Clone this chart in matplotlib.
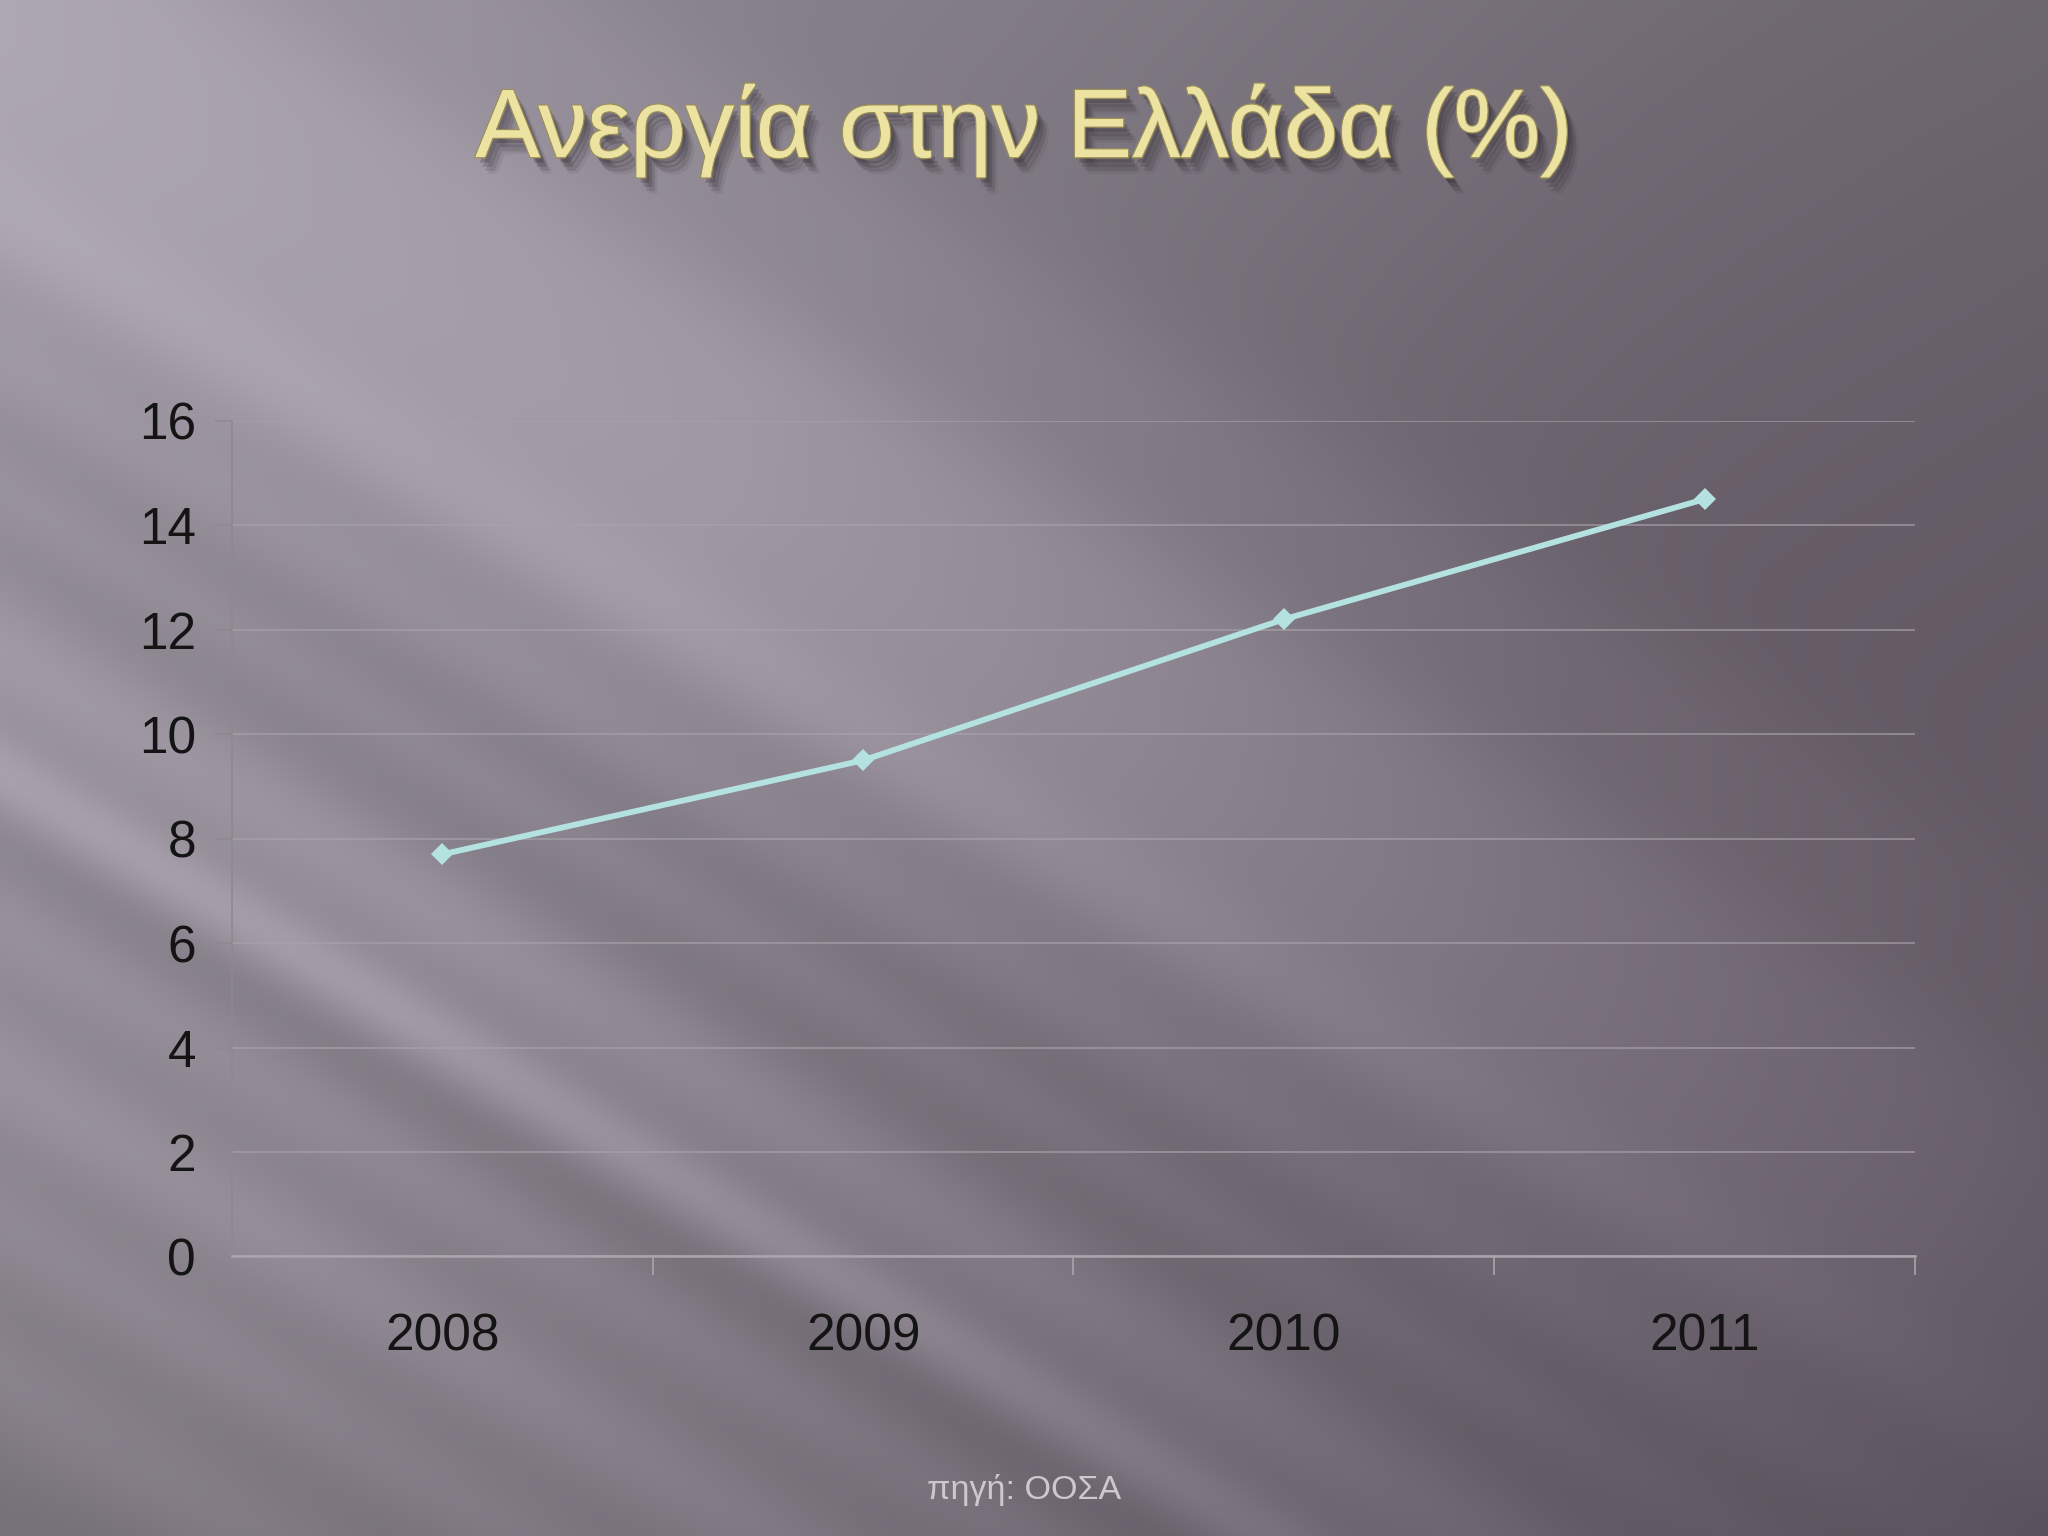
import numpy as np
import matplotlib
matplotlib.use("Agg")
import matplotlib.pyplot as plt
import matplotlib.patheffects as pe

# ---- data ----
years = ["2008", "2009", "2010", "2011"]
unemployment = [7.7, 9.5, 12.2, 14.5]
yticks = [0, 2, 4, 6, 8, 10, 12, 14, 16]
title = "Ανεργία στην Ελλάδα (%)"
source = "πηγή: ΟΟΣΑ"

W, H = 2048, 1536
fig = plt.figure(figsize=(W / 100, H / 100), dpi=100)

# ---- background (decorative gradient with diagonal light streaks) ----
bw, bh = 1024, 768
X, Y = np.meshgrid(np.linspace(0, W, bw), np.linspace(0, H, bh))
xx, yy = X / W, Y / H
tl = np.array([150, 144, 156]) / 255
tr = np.array([110, 104, 112]) / 255
bl = np.array([118, 112, 120]) / 255
br = np.array([86, 78, 88]) / 255
img = (tl * ((1 - xx) * (1 - yy))[..., None] + tr * (xx * (1 - yy))[..., None]
       + bl * ((1 - xx) * yy)[..., None] + br * (xx * yy)[..., None])
mid = np.array([96, 84, 96]) / 255
pt = np.exp(-((xx - 0.85) ** 2 / 0.06 + (yy - 0.5) ** 2 / 0.2))
img = img * (1 - 0.4 * pt[..., None]) + mid * 0.4 * pt[..., None]
ang = np.deg2rad(31)
u = X * np.sin(ang) - Y * np.cos(ang)
v = X * np.cos(ang) + Y * np.sin(ang)
bands = [(-60, 110, 0.40), (-190, 45, 0.25), (90, 60, 0.18), (240, 60, 0.14),
         (-310, 40, 0.22), (-420, 30, 0.18), (-560, 50, 0.34), (-665, 28, 0.42),
         (-790, 40, 0.26), (-920, 50, 0.32), (-1050, 40, 0.22), (-1180, 50, 0.18)]
streaks = np.zeros_like(X)
for c, w, a in bands:
    streaks += a * np.exp(-((u - c) ** 2) / (2 * w ** 2))
fade = np.clip(1.45 - v / 1900, 0, 1)
light = np.array([208, 200, 214]) / 255
s = np.clip(streaks * fade, 0, 0.65)[..., None]
img = np.clip(img * (1 - s) + light * s, 0, 1)
bgax = fig.add_axes([0, 0, 1, 1], zorder=-10)
bgax.imshow(img, aspect="auto", extent=[0, 1, 0, 1], interpolation="bilinear")
bgax.axis("off")

# ---- chart ----
ax = fig.add_axes([0.1133, 0.182, 0.8217, 0.544])
ax.patch.set_alpha(0)
x = np.arange(len(years))
ax.plot(x, unemployment, color="#b4e2e0", lw=4.2, marker="D", ms=11,
        markeredgewidth=0, solid_capstyle="round", zorder=5)
ax.set_xlim(-0.5, len(years) - 0.5)
ax.set_ylim(0, 16)
ax.set_yticks(yticks)
ax.set_yticklabels([str(t) for t in yticks])
ax.set_xticks(x)
ax.set_xticklabels(years)
ax.set_xticks(np.arange(len(years)) + 0.5, minor=True)
ax.grid(axis="y", color="#a8a2aa", lw=1.2, alpha=0.75)
ax.set_axisbelow(True)
for sp in ["top", "right"]:
    ax.spines[sp].set_visible(False)
ax.spines["left"].set_color("#8e8890")
ax.spines["left"].set_linewidth(1.2)
ax.spines["bottom"].set_color("#aaa4ac")
ax.spines["bottom"].set_linewidth(1.8)
ax.tick_params(axis="y", length=12, width=1.2, color="#8e8890", pad=14,
               labelsize=37, labelcolor="#141414")
ax.tick_params(axis="x", which="major", length=0, pad=40, labelsize=37,
               labelcolor="#141414")
ax.tick_params(axis="x", which="minor", length=14, width=1.2, color="#aaa4ac")
for lab in ax.get_xticklabels() + ax.get_yticklabels():
    lab.set_family(["Liberation Sans", "DejaVu Sans"])

# ---- title & source ----
shadow = [pe.withSimplePatchShadow(offset=(dx, dy), shadow_rgbFace="#2a2228", alpha=a)
          for dx, dy, a in [(3, -4, 0.25), (5, -7, 0.2), (7, -10, 0.15), (9, -12, 0.08)]]
fig.text(0.5, 0.915, title, ha="center", va="center", fontsize=70,
         color="#ece3a2", family=["Liberation Sans", "DejaVu Sans"],
         path_effects=shadow + [pe.withStroke(linewidth=2.0, foreground="#9c9058"),
                                pe.Normal()])
fig.text(0.5, 0.030, source, ha="center", va="center", fontsize=24.5,
         color="#cec8ce", family=["Liberation Sans", "DejaVu Sans"])

fig.savefig("out.png", dpi=100)
